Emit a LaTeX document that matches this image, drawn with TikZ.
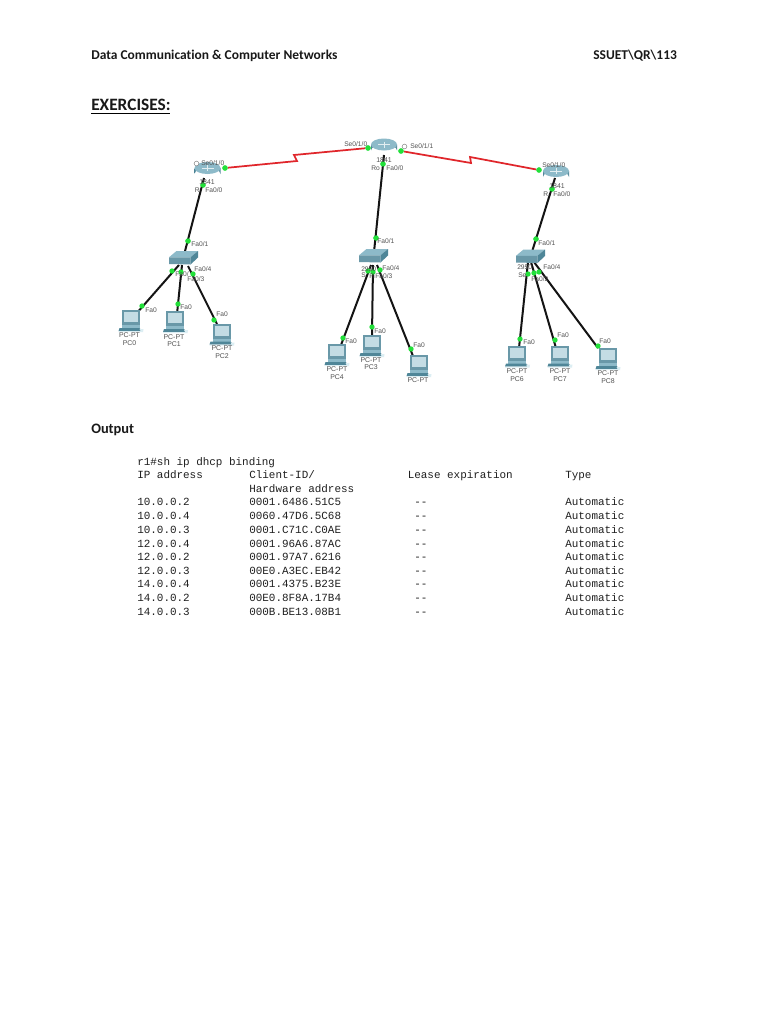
\documentclass[tikz,border=0pt]{standalone}
\usepackage{fontspec}
\setmainfont{Carlito}[Ligatures=NoCommon]
\newfontfamily\tblfont{Liberation Mono}
\newfontfamily\lblfont{Liberation Sans}
\definecolor{devdark}{HTML}{4F8698}
\definecolor{devmid}{HTML}{8DBAC9}
\definecolor{devlight}{HTML}{DCEEF3}
\definecolor{scr}{HTML}{C4DCE4}
\definecolor{linkgreen}{HTML}{22E03A}
\definecolor{serial}{HTML}{E0262B}
\tikzset{
  head/.style={anchor=base west,inner sep=0pt,font=\fontsize{10.1}{12}\selectfont\bfseries,text=black!90},
  bighead/.style={anchor=base west,inner sep=0pt,font=\fontsize{13}{15}\selectfont\bfseries,text=black!90},
  tbl/.style={anchor=base west,inner sep=0pt,font=\tblfont\fontsize{8.2}{10}\selectfont,text=black!88},
  lbl/.style={anchor=west,inner sep=0pt,font=\lblfont\fontsize{5}{6}\selectfont,text=black!68},
  clbl/.style={anchor=center,inner sep=0pt,font=\lblfont\fontsize{5.2}{6}\selectfont,text=black!68},
  dot/.style={circle,fill=linkgreen,inner sep=0pt,minimum size=4pt},
  eth/.style={line width=1.5pt,black!92},
  ser/.style={line width=1.3pt,serial},
  clockic/.style={draw=black!55,line width=0.3pt,fill=white},
  pics/routerpic/.style={code={
    \shade[left color=devdark,right color=devdark,middle color=devlight] (-13,-3) -- (-13,3) arc[start angle=180,end angle=360,x radius=13,y radius=6] -- (13,-3) -- cycle;
    \fill[devmid] (0,-3) ellipse[x radius=13,y radius=6];
    \draw[white!75!devmid,line width=0.3pt] (-6,-3) -- (6,-3) (0,-6) -- (0,0);
  }},
  pics/switchpic/.style={code={
    \fill[devmid] (-14.5,-0.7) -- (-7,-7) -- (14.5,-7) -- (7,-0.7) -- cycle;
    \fill[devdark!85!white] (-14.5,-0.7) -- (7,-0.7) -- (7,6.5) -- (-14.5,6) -- cycle;
    \fill[devdark] (7,-0.7) -- (14.5,-7) -- (14.5,-0.5) -- (7,6.5) -- cycle;
  }},
  pics/pcpic/.style={code={
    \fill[devdark!85!white] (-9,-11) rectangle (9,4);
    \fill[scr] (-7,-9) rectangle (7,1);
    \fill[devmid] (-9,4) rectangle (9,7);
    \fill[devdark] (-11,7) -- (9,7) -- (12,10) -- (-12,10) -- cycle;
    \fill[devlight] (9,8) -- (13,8) -- (12.5,11) -- (-12,11) -- (-12,10) -- (10,10) -- cycle;
  }},
}
\begin{document}
\begin{tikzpicture}[x=0.75pt,y=-0.75pt]
\useasboundingbox (0,0) rectangle (768,1024);
\fill[white] (0,0) rectangle (768,1024);

% Page text
\node[head] (title) at (91,59.5) {Data Communication \& Computer Networks};
\node[head] (code) at (593,59.5) {SSUET\textbackslash QR\textbackslash 113};
\node[bighead] (ex) at (91,110) {EXERCISES:};
\draw[black,line width=0.75pt] (91,113) -- (170,113);
\node[bighead,font=\fontsize{10.8}{13}\selectfont\bfseries] (out) at (91,433.5) {Output};

% Port dots (named first, so links can use them)
\path
 node[dot] (d0s) at (225,168) {}
 node[dot] (d0e) at (203,185) {}
 node[dot] (d0u) at (188,241) {}
 node[dot] (d1l) at (368,148) {}
 node[dot] (d1r) at (401,151) {}
 node[dot] (d1e) at (383,164) {}
 node[dot] (d1u) at (376,238) {}
 node[dot] (d2s) at (539,170) {}
 node[dot] (d2e) at (552,189) {}
 node[dot] (d2u) at (536,239) {};

% Device anchor points
\path
 coordinate (r0) at (204,178) coordinate (s0) at (184,255)
 coordinate (s0a) at (179,265) coordinate (s0b) at (182,265) coordinate (s0c) at (188,266)
 coordinate (p0) at (136,314) coordinate (p1) at (177,314) coordinate (p2) at (217,324)
 coordinate (r1) at (384,155) coordinate (s1) at (374,252)
 coordinate (s1a) at (371,265) coordinate (s1b) at (373,265) coordinate (s1c) at (377,265)
 coordinate (p4) at (341,345) coordinate (p3) at (372,336) coordinate (p5) at (413,356)
 coordinate (r2) at (555,178) coordinate (s2) at (531,255)
 coordinate (s2a) at (528,262) coordinate (s2b) at (531,262) coordinate (s2c) at (534,262)
 coordinate (p6) at (519,348) coordinate (p7) at (556,348) coordinate (p8) at (598,348);

% Links
\draw[eth] (r0) -- (s0);
\draw[eth] (r1) -- (s1);
\draw[eth] (r2) -- (s2);
\draw[eth] (s0a) -- (p0);
\draw[eth] (s0b) -- (p1);
\draw[eth] (s0c) -- (p2);
\draw[eth] (s1a) -- (p4);
\draw[eth] (s1b) -- (p3);
\draw[eth] (s1c) -- (p5);
\draw[eth] (s2a) -- (p6);
\draw[eth] (s2b) -- (p7);
\draw[eth] (s2c) -- (p8);
\draw[ser] (d0s) -- (297,161) -- (294,155) -- (d1l);
\draw[ser] (d1r) -- (471,163) -- (470,157) -- (d2s);

% Devices
\pic at (207.5,171) {routerpic};
\pic at (384,147.5) {routerpic};
\pic at (556,174) {routerpic};
\pic at (183.5,258) {switchpic};
\pic at (373.5,256) {switchpic};
\pic at (530.5,256.5) {switchpic};
\pic at (130.5,321) {pcpic};
\pic at (175,322) {pcpic};
\pic at (221.5,334.5) {pcpic};
\pic at (336.5,355) {pcpic};
\pic at (371.5,346) {pcpic};
\pic at (418.5,366) {pcpic};
\pic at (517,356.5) {pcpic};
\pic at (559.5,356.5) {pcpic};
\pic at (607.5,359) {pcpic};

% Redraw dots above devices
\foreach \n/\x/\y in {a/225/168,b/203/185,c/188/241,d/368/148,e/401/151,f/383/164,g/376/238,h/539/170,i/552/189,j/536/239,
  k/172/271,l/181/272,m/193/274,n/142/306,o/178/304,q/214/320,
  r/368/271,s/373/272,t/380/270,u/343/338,v/372/327,w/411/349,
  x/528/274,y/534/273,z/539/272,aa/520/339,ab/555/340,ac/598/346}
  \node[dot] (top\n) at (\x,\y) {};

% Device and port labels
\draw[clockic] (196.5,163.5) circle[radius=2.4];
\node[lbl] (l1) at (201,163.5) {Se0/1/0};
\node[clbl] (l2) at (207,182) {1841};
\node[lbl] (l3) at (194.5,190) {R};
\node[lbl] (l4) at (205,190) {Fa0/0};
\node[lbl] (l5) at (191,244) {Fa0/1};
\node[lbl] (l6) at (194,269) {Fa0/4};
\node[lbl] (l7) at (175,274.5) {Fa0/};
\node[lbl] (l8) at (187,279) {Fa0/3};
\node[lbl] (l9) at (145,310) {Fa0};
\node[lbl] (l10) at (180,307.5) {Fa0};
\node[lbl] (l11) at (216,314) {Fa0};
\node[clbl] (l12) at (129.5,335.5) {PC-PT};
\node[clbl] (l13) at (129.5,343) {PC0};
\node[clbl] (l14) at (174,337) {PC-PT};
\node[clbl] (l15) at (174,344) {PC1};
\node[clbl] (l16) at (222,348.5) {PC-PT};
\node[clbl] (l17) at (222,356.5) {PC2};

\node[lbl] (m1) at (344,144.5) {Se0/1/0};
\draw[clockic] (404.5,146.5) circle[radius=2.4];
\node[lbl] (m2) at (410,146.5) {Se0/1/1};
\node[clbl] (m3) at (384,160) {1841};
\node[lbl] (m4) at (371,168) {Ro};
\node[lbl] (m5) at (386,168) {Fa0/0};
\node[lbl] (m6) at (377,241.5) {Fa0/1};
\node[lbl] (m7) at (361,269) {2950};
\node[lbl] (m8) at (382,268.5) {Fa0/4};
\node[lbl] (m9) at (361,275) {S};
\node[lbl] (m10) at (369,276) {Fi};
\node[lbl] (m11) at (375,276.5) {Fa0/3};
\node[lbl] (m12) at (345,341.5) {Fa0};
\node[lbl] (m13) at (374,331) {Fa0};
\node[lbl] (m14) at (413,345) {Fa0};
\node[clbl] (m15) at (337,369) {PC-PT};
\node[clbl] (m16) at (337,377) {PC4};
\node[clbl] (m17) at (371,360) {PC-PT};
\node[clbl] (m18) at (371,367.5) {PC3};
\node[clbl] (m19) at (418,380) {PC-PT};

\node[lbl] (n1) at (542,165) {Se0/1/0};
\node[clbl] (n2) at (557,186) {1841};
\node[lbl] (n3) at (543,194) {R};
\node[lbl] (n4) at (553,194) {Fa0/0};
\node[lbl] (n5) at (538,243.5) {Fa0/1};
\node[lbl] (n6) at (517,267) {2950};
\node[lbl] (n7) at (543,267) {Fa0/4};
\node[lbl] (n8) at (518,275.5) {Se};
\node[lbl] (n9) at (531,279) {Fa0/2};
\node[lbl] (n10) at (523,342) {Fa0};
\node[lbl] (n11) at (557,335.5) {Fa0};
\node[lbl] (n12) at (599,341) {Fa0};
\node[clbl] (n13) at (517,371) {PC-PT};
\node[clbl] (n14) at (517,379) {PC6};
\node[clbl] (n15) at (560,371) {PC-PT};
\node[clbl] (n16) at (560,379) {PC7};
\node[clbl] (n17) at (608,373) {PC-PT};
\node[clbl] (n18) at (608,381) {PC8};

% DHCP binding output
\node[tbl] (t0) at (137,465) {r1\#sh ip dhcp binding};
\node[tbl] (t1a) at (137,478.5) {IP address};
\node[tbl] (t1b) at (249,478.5) {Client-ID/};
\node[tbl] (t1c) at (407.5,478.5) {Lease expiration};
\node[tbl] (t1d) at (565,478.5) {Type};
\node[tbl] (t2) at (249,492.5) {Hardware address};
\foreach \i/\y/\ip/\mac in {
  a/505.5/10.0.0.2/0001.6486.51C5,
  b/519/10.0.0.4/0060.47D6.5C68,
  c/533/10.0.0.3/0001.C71C.C0AE,
  d/547/12.0.0.4/0001.96A6.87AC,
  e/560.5/12.0.0.2/0001.97A7.6216,
  f/574/12.0.0.3/00E0.A3EC.EB42,
  g/587.5/14.0.0.4/0001.4375.B23E,
  h/601.5/14.0.0.2/00E0.8F8A.17B4,
  i/615/14.0.0.3/000B.BE13.08B1}{
  \node[tbl] (ip\i) at (137,\y) {\ip};
  \node[tbl] (mac\i) at (249,\y) {\mac};
  \node[tbl] (ls\i) at (414,\y) {-{}-};
  \node[tbl] (ty\i) at (565,\y) {Automatic};
}
\end{tikzpicture}
\end{document}
